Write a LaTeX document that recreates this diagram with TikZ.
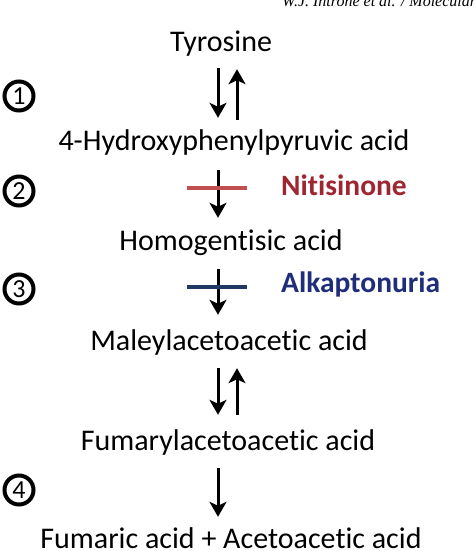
\documentclass[tikz,border=0pt]{standalone}
\usepackage{fontspec}
\setmainfont{Carlito}[Ligatures=NoCommon]
\newfontfamily\headfont{Liberation Serif}
\usetikzlibrary{arrows.meta}
\definecolor{barred}{RGB}{192,80,77}
\definecolor{txtred}{RGB}{158,38,48}
\definecolor{barblue}{RGB}{31,56,100}
\definecolor{txtblue}{RGB}{31,45,122}
\tikzset{
  lbl/.style={anchor=base, inner sep=0pt, text height=20pt, text depth=6pt,
    font=\fontsize{30}{36}\selectfont},
  druglbl/.style={anchor=base west, inner sep=0pt,
    font=\fontsize{29.5}{35}\selectfont\bfseries},
  arr/.style={line width=3pt, -{Stealth[length=15pt,width=17pt,inset=4pt]}},
  bar/.style={line width=4pt},
  stepnum/.style={circle, draw, line width=4pt, minimum size=29pt, inner sep=0pt,
    font=\fontsize{26}{26}\selectfont}
}
\begin{document}
\begin{tikzpicture}[x=1pt,y=-1pt]
\useasboundingbox (0,0) rectangle (474,551);
\fill[white] (0,0) rectangle (474,551);
% header (cropped at the top and right, as in the source)
\node[anchor=base west, inner sep=0pt, font=\fontsize{16}{18}\selectfont\headfont\itshape] (hdr) at (282,6.5) {W.J. Introne et al. / Molecular};
% columns for arrows
\coordinate (colL) at (218,0);
\coordinate (colR) at (237,0);
\coordinate (barL) at (187,0);
\coordinate (barR) at (247,0);
% compounds
\node[lbl] (tyr) at (221,52) {Tyrosine};
\node[lbl] (hpp) at (234,150) {4-Hydroxyphenylpyruvic acid};
\node[lbl] (hga) at (231,250) {Homogentisic acid};
\node[lbl] (mal) at (229,350) {Maleylacetoacetic acid};
\node[lbl] (fum) at (228,450) {Fumarylacetoacetic acid};
\node[lbl, text depth=1pt] (fin) at (231,548) {Fumaric acid + Acetoacetic acid};
% step numbers
\node[stepnum] (s1) at (19,96) {1};
\node[stepnum] (s2) at (19,191) {2};
\node[stepnum] (s3) at (19,289) {3};
\node[stepnum] (s4) at (19,490) {4};
% step 1
\draw[arr] ([yshift=-10pt]tyr.south -| colL) -- ([yshift=12pt]hpp.north -| colL);
\draw[arr] ([yshift=10pt]hpp.north -| colR) -- ([yshift=-11pt]tyr.south -| colR);
% step 2
\draw[arr] ([yshift=-14pt]hpp.south -| colL) -- ([yshift=12pt]hga.north -| colL);
\coordinate (b1) at (0,188);
\draw[bar, barred] (b1 -| barL) -- (b1 -| barR);
\node[druglbl, text=txtred] (nit) at (281,195) {Nitisinone};
% step 3
\draw[arr] ([yshift=-13pt]hga.south -| colL) -- ([yshift=15pt]mal.north -| colL);
\coordinate (b2) at (0,287);
\draw[bar, barblue] (b2 -| barL) -- (b2 -| barR);
\node[druglbl, text=txtblue] (akp) at (281,292) {Alkaptonuria};
% reversible step
\draw[arr] ([yshift=-12pt]mal.south -| colL) -- ([yshift=15pt]fum.north -| colL);
\draw[arr] ([yshift=15pt]fum.north -| colR) -- ([yshift=-12pt]mal.south -| colR);
% step 4
\draw[arr] ([yshift=-12pt]fum.south -| colL) -- ([yshift=11pt]fin.north -| colL);
\end{tikzpicture}
\end{document}
